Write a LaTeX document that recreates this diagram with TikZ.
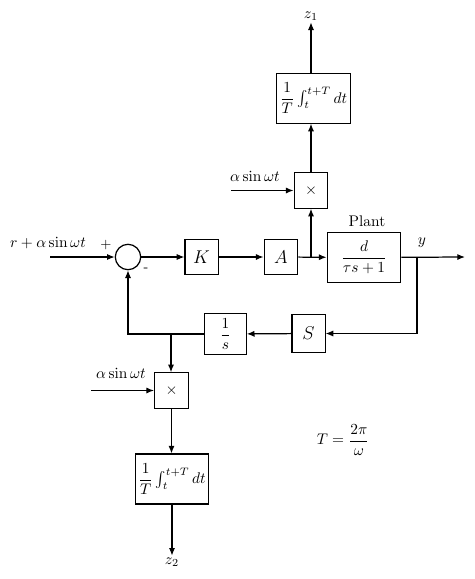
\documentclass[tikz,border=0pt]{standalone}
\usepackage{amsmath}
\usepackage{amssymb}
\usepackage{tikz}
\usetikzlibrary{arrows.meta}
\usetikzlibrary{positioning}
\tikzset{
  block/.style={draw, line width=0.7pt, inner sep=2pt},
  sig/.style={-{Latex[length=5pt,width=4pt]}, line width=0.8pt},
}

\begin{document}
\begin{tikzpicture}[x=0.65pt, y=-0.65pt]
  \useasboundingbox (0,0) rectangle (474,579);
  % forward path
  \node (sum) at (128,257) [draw, line width=0.8pt, circle, minimum size=16.5pt, inner sep=0pt] {};
  \node (K) at (201.5,257) [block, minimum width=21.5pt, minimum height=23pt] {\large $K$};
  \node (A) at (281,257) [block, minimum width=22pt, minimum height=23pt] {\large $A$};
  \node (plant) at (364,257.5) [block, minimum width=48pt, minimum height=32pt] {$\dfrac{d}{\tau s+1}$};
  \node (plantlbl) at (367,221) {Plant};
  \node (in) at (48,243) {$r+\alpha\sin\omega t$};
  \coordinate (inpt) at (50,257);
  \node (plus) at (106,245) {\small $+$};
  \node (minus) at (146,270) {\small -};
  \coordinate (jA) at (311,257);
  \coordinate (jy) at (417,257);
  \coordinate (out) at (465,257);
  \node (ylbl) at (422,243) {$y$};
  \draw[sig] (inpt) -- (sum);
  \draw[sig] (sum) -- (K);
  \draw[sig] (K) -- (A);
  \draw[sig] (A) -- (plant);
  \draw[sig] (plant) -- (out);

  % upper demodulator
  \node (mult1) at (311,190.5) [block, minimum width=22pt, minimum height=23pt] {$\times$};
  \node (int1) at (313.5,98.5) [block, minimum width=46pt, minimum height=32pt] {$\dfrac{1}{T}\int_t^{t+T} dt$};
  \node (z1) at (311,16) [inner sep=1pt] {$z_1$};
  \node (dith1) at (255,176) {$\alpha\sin\omega t$};
  \coordinate (dith1pt) at (231,190.5);
  \draw[sig] (jA) -- (mult1);
  \draw[sig] (dith1pt) -- (mult1);
  \draw[sig] (mult1) -- (mult1 |- int1.south);
  \draw[sig] (int1.north -| z1) -- (z1);

  % feedback path
  \node (S) at (308.5,333.5) [block, minimum width=21.5pt, minimum height=25pt] {\large $S$};
  \node (inv) at (225.5,334) [block, minimum width=27pt, minimum height=27pt] {$\dfrac{1}{s}$};
  \coordinate (jf) at (171,334);
  \draw[sig] (jy) |- (S);
  \draw[sig] (S) -- (inv);
  \draw[sig] (inv) -| (sum);

  % lower demodulator
  \node (mult2) at (171.5,390.5) [block, minimum width=22pt, minimum height=23pt] {$\times$};
  \node (int2) at (172,479) [block, minimum width=46pt, minimum height=32.5pt] {$\dfrac{1}{T}\int_t^{t+T} dt$};
  \node (z2) at (172,562) [inner sep=1pt] {$z_2$};
  \node (dith2) at (121,373) {$\alpha\sin\omega t$};
  \coordinate (dith2pt) at (91,390.5);
  \draw[sig] (jf) -- (jf |- mult2.north);
  \draw[sig] (dith2pt) -- (mult2);
  \draw[sig] (mult2) -- (mult2 |- int2.north);
  \draw[sig] (int2.south -| z2) -- (z2);

  \node (period) at (343,440) {$T=\dfrac{2\pi}{\omega}$};
\end{tikzpicture}
\end{document}
